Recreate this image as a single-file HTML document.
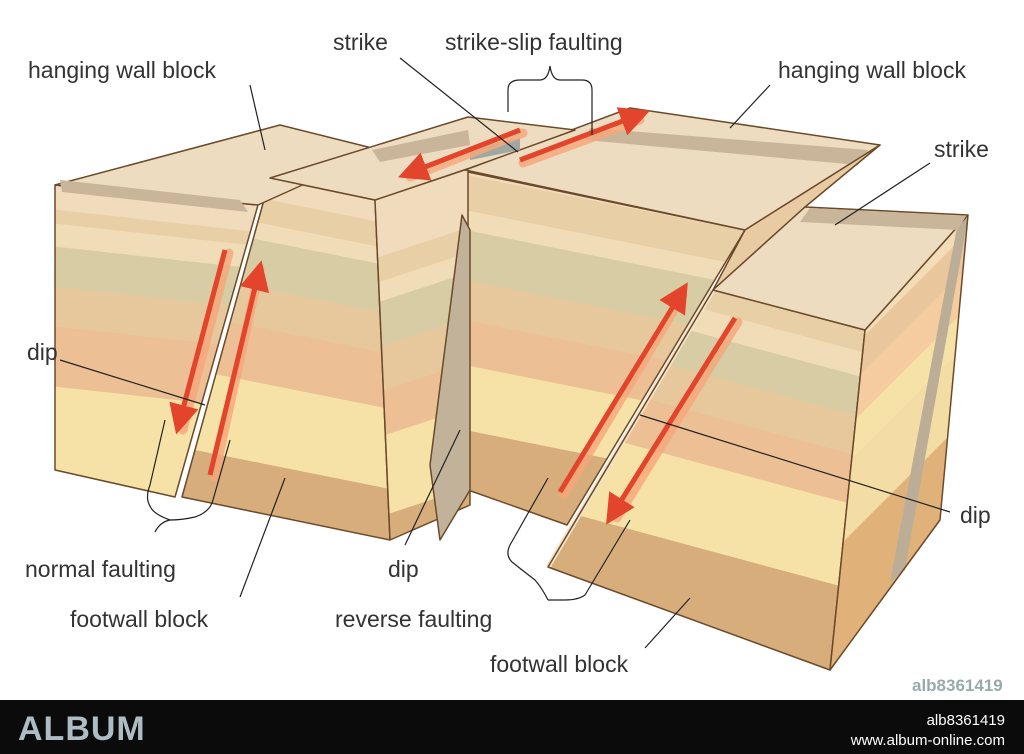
<!DOCTYPE html>
<html><head><meta charset="utf-8"><style>
html,body{margin:0;width:1024px;height:754px;background:#fff;overflow:hidden;font-family:"Liberation Sans",sans-serif}
svg{position:absolute;left:0;top:0}
.lbl{font-family:"Liberation Sans",sans-serif;font-size:23px;fill:#333}
.ln{stroke:#222;stroke-width:1.2;fill:none}
.ed{stroke:#6b4a2a;stroke-width:1.5;stroke-linejoin:round}
</style></head><body>
<svg id="s" width="1024" height="754" viewBox="0 0 1024 754">
<defs>
<clipPath id="cA"><polygon points="55,185 258,205 175,497 55,470"/></clipPath>
<clipPath id="cB"><polygon points="270,178 375,200 390,540 182,497"/></clipPath>
<clipPath id="cBr"><polygon points="375,200 470,168 470,505 390,540"/></clipPath>
<clipPath id="cC"><polygon points="468,172 745,230 567,525 468,490"/></clipPath>
<clipPath id="cD"><polygon points="713,290 865,330 830,670 548,567"/></clipPath>
<clipPath id="cDr"><polygon points="865,330 968,215 940,520 830,670"/></clipPath>
<marker id="ah" markerWidth="6" markerHeight="6" refX="3" refY="3" orient="auto" markerUnits="strokeWidth"><path d="M0,0 L6,3 L0,6 z" fill="#e2452b"/></marker>
</defs>
<g id="faces"></g>
<polygon class="ed" points="55,185 280,125 380,150 258,205" fill="#eedcc0"/>
<polygon points="60,180 240,200 248,212 62,192" fill="#c9b59a"/>
<polygon class="ed" points="465,170 630,108 880,145 745,230" fill="#eedcc0"/>
<polygon points="590,128 868,150 858,165 585,140" fill="#c9b59a"/>
<polygon class="ed" points="745,230 880,145 805,207 713,290" fill="#e8cba2"/>
<polygon class="ed" points="270,178 468,117 575,130 470,168 375,200" fill="#eedcc0"/>
<polygon points="372,150 468,130 470,145 380,162" fill="#c9b59a"/>
<polygon points="470,148 520,138 520,150 470,160" fill="#9fa8a2"/>
<polygon class="ed" points="713,290 805,207 968,215 865,330" fill="#eedcc0"/>
<polygon points="810,208 966,216 958,230 800,222" fill="#c9b59a"/>
<polygon points="430,465 462,215 470,230 470,490 440,540" fill="#c2b29a" class="ed"/>
</svg>
<script>
var g=document.getElementById('faces');
var C=['#f0dcbc','#e8cfa6','#f1dcb8','#d7cca4','#e7c89d','#ecbf94','#f6e2a6','#d7ae7b'];
function bands(clip,x0,x1,slope,ys,out,cols){
 cols=cols||C;var h='';for(var i=0;i<ys.length-1;i++){var d=slope*(x1-x0);
 h+='<polygon points="'+x0+','+ys[i]+' '+x1+','+(ys[i]+d)+' '+x1+','+(ys[i+1]+d+1)+' '+x0+','+(ys[i+1]+1)+'" fill="'+cols[i]+'"/>';}
 g.insertAdjacentHTML('beforeend','<g clip-path="url(#'+clip+')">'+h+'</g>'+out);}
bands('cA',40,270,0.11,[180,208,222,245,285,325,385,700],'<polygon class="ed" fill="none" points="55,185 258,205 175,497 55,470"/>');
bands('cB',170,395,0.2,[120,180,205,222,270,310,365,445,700],'<polygon class="ed" fill="none" points="270,178 375,200 390,540 182,497"/>');
bands('cBr',370,475,-0.33,[200,260,285,305,350,395,440,520,800],'<polygon class="ed" fill="none" points="375,200 470,168 470,505 390,540"/>');
bands('cC',465,750,0.2,[165,175,210,230,280,320,365,430,800],'<polygon class="ed" fill="none" points="468,172 745,230 567,525 468,490"/>');
bands('cD',540,870,0.27,[212,242,265,290,330,370,420,505,900],'<line x1="713" y1="290" x2="548" y2="567" stroke="#f3e3c8" stroke-width="5"/><polygon class="ed" fill="none" points="713,290 865,330 830,670 548,567"/>');
bands('cDr',800,990,-1.0,[295,335,365,400,435,475,510,585,1000],'<polygon points="958,222 968,218 905,570 890,582" fill="#bcae96"/><polygon class="ed" fill="none" points="865,330 968,215 940,520 830,670"/>',['#f0dcbc','#efd4ae','#f3dcb8','#e9c69c','#f5cca0','#f6e2a6','#f4dda4','#e0b27a']);
</script>
<svg width="1024" height="754" viewBox="0 0 1024 754">
<g stroke="#f6a77a" stroke-width="9" stroke-linecap="round" fill="none" opacity="0.8">
<line x1="229" y1="253" x2="183" y2="430"/><line x1="214" y1="478" x2="260" y2="268"/>
<line x1="523" y1="133" x2="410" y2="177"/><line x1="523" y1="163" x2="640" y2="120"/>
<line x1="564" y1="495" x2="683" y2="295"/><line x1="738" y1="322" x2="617" y2="518"/>
</g>
<g stroke="#e2452b" stroke-width="5" fill="none" marker-end="url(#ah)">
<line x1="225" y1="250" x2="180" y2="420"/><line x1="210" y1="475" x2="258" y2="275"/>
<line x1="520" y1="130" x2="412" y2="172"/><line x1="520" y1="160" x2="636" y2="116"/>
<line x1="560" y1="492" x2="680" y2="295"/><line x1="735" y1="318" x2="614" y2="512"/>
</g>
<g class="ln">
<line x1="250" y1="85" x2="265" y2="150"/><line x1="400" y1="58" x2="518" y2="152"/>
<path d="M508,112 V90 Q508,80 520,80 H540 Q548,80 550,66 Q552,80 560,80 H582 Q592,80 592,90 V135"/>
<line x1="770" y1="85" x2="730" y2="128"/><line x1="930" y1="163" x2="835" y2="225"/>
<line x1="60" y1="360" x2="205" y2="405"/>
<path d="M165,420 L150,485 Q145,498 150,506 Q153,514 170,520 Q160,522 155,532"/>
<path d="M230,440 L213,500 Q210,512 195,517 Q182,520 170,520"/>
<line x1="240" y1="597" x2="285" y2="478"/><line x1="405" y1="545" x2="460" y2="430"/>
<line x1="640" y1="415" x2="950" y2="512"/>
<path d="M548,478 L510,545 Q505,555 512,562 Q522,570 535,580 Q542,588 548,600"/>
<path d="M630,520 L585,595 Q578,600 565,600 Q552,600 548,600"/>
<line x1="645" y1="648" x2="690" y2="598"/>
</g>
<text class="lbl" x="28" y="78">hanging wall block</text>
<text class="lbl" x="333" y="50">strike</text>
<text class="lbl" x="445" y="50">strike-slip faulting</text>
<text class="lbl" x="778" y="78">hanging wall block</text>
<text class="lbl" x="934" y="157">strike</text>
<text class="lbl" x="27" y="360">dip</text>
<text class="lbl" x="25" y="577">normal faulting</text>
<text class="lbl" x="70" y="627">footwall block</text>
<text class="lbl" x="388" y="577">dip</text>
<text class="lbl" x="335" y="627">reverse faulting</text>
<text class="lbl" x="960" y="523">dip</text>
<text class="lbl" x="490" y="672">footwall block</text>
<text x="912" y="691" font-size="17" fill="#9aa" font-weight="bold">alb8361419</text>
<rect x="0" y="700" width="1024" height="54" fill="#0b0b0b"/>
<text x="18" y="740" font-size="34" font-weight="bold" fill="#aebcc4" letter-spacing="1">ALBUM</text>
<text x="1005" y="725" font-size="15" fill="#fff" text-anchor="end">alb8361419</text>
<text x="1005" y="745" font-size="15" fill="#fff" text-anchor="end">www.album-online.com</text>
</svg>
</body></html>
